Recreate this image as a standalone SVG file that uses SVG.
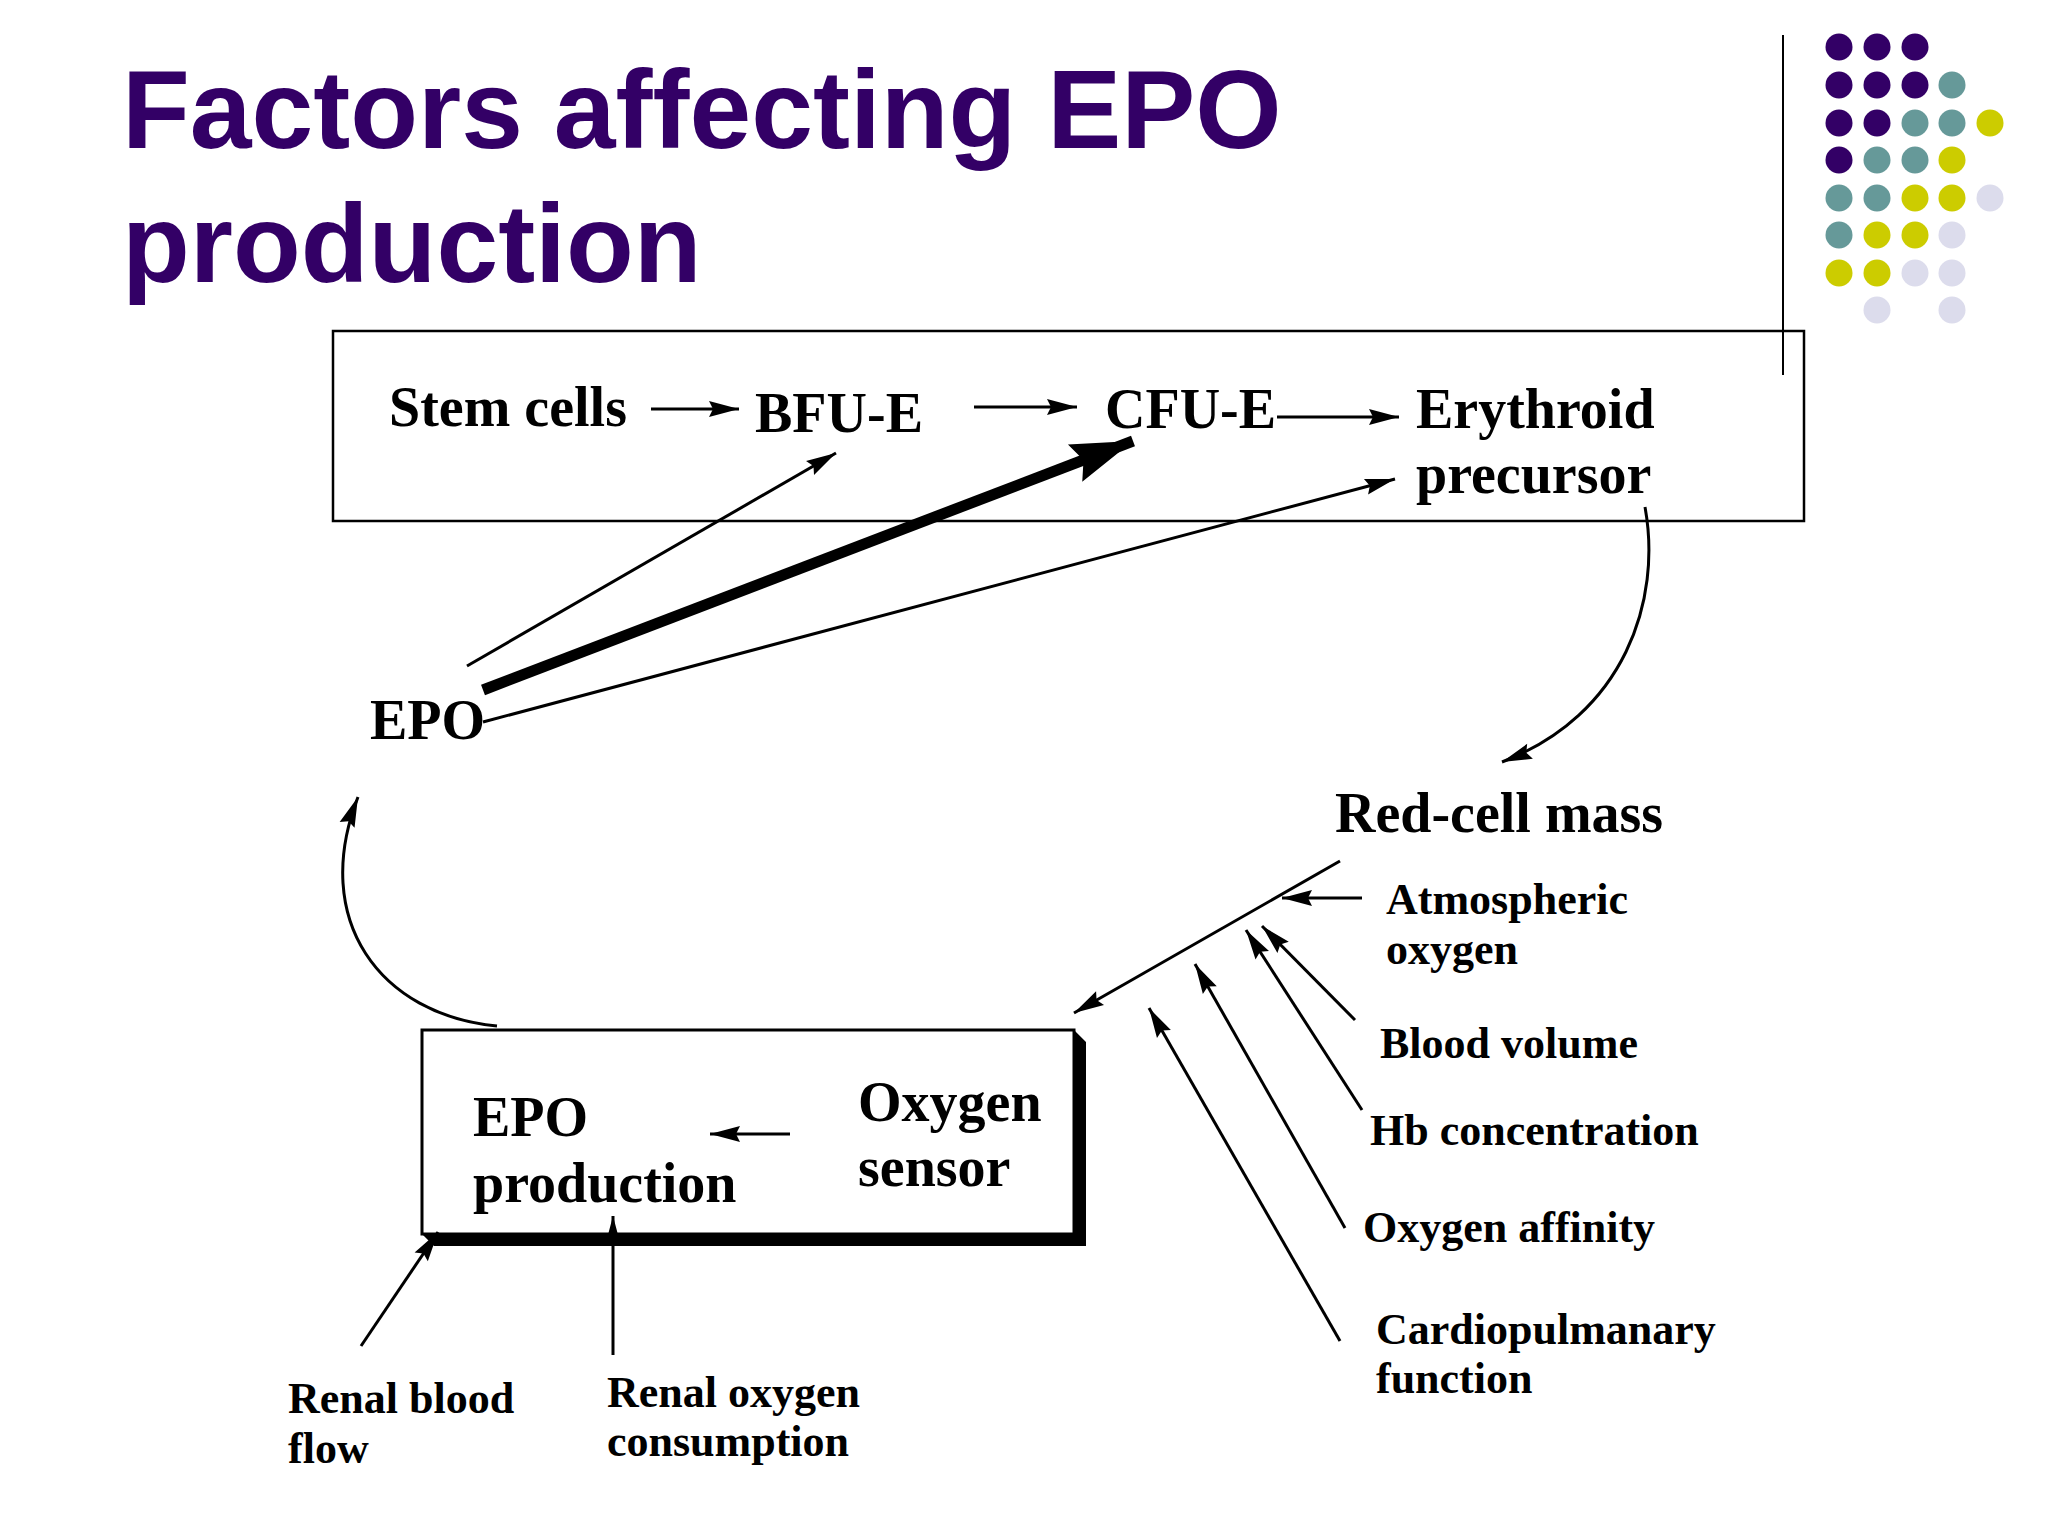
<svg xmlns="http://www.w3.org/2000/svg" width="2048" height="1536" viewBox="0 0 2048 1536">
<style>
.title{font-family:"Liberation Sans",Arial,sans-serif;font-weight:bold;font-size:111px;fill:#330066}
.big{font-family:"Liberation Serif","Times New Roman",serif;font-weight:bold;font-size:56px;fill:#000}
.small{font-family:"Liberation Serif","Times New Roman",serif;font-weight:bold;font-size:44px;fill:#000}
.ln{stroke:#000;stroke-width:3;fill:none}
.p{fill:#330066}.t{fill:#669999}.y{fill:#cccc00}.l{fill:#dcdcec}
</style>
<defs>
<marker id="ah" markerUnits="userSpaceOnUse" markerWidth="34" markerHeight="20" refX="30" refY="8" orient="auto" overflow="visible">
<path d="M0,0 L30,8 L0,16 L4,8 z" fill="#000"/>
</marker>
<marker id="ahb" markerUnits="userSpaceOnUse" markerWidth="70" markerHeight="44" refX="62" refY="20" orient="auto" overflow="visible">
<path d="M0,0 L62,20 L0,40 L9,20 z" fill="#000"/>
</marker>
</defs>
<rect width="2048" height="1536" fill="#fff"/>
<text class="title" x="122" y="148">Factors affecting EPO</text>
<text class="title" x="122" y="282">production</text>
<line x1="1783" y1="35" x2="1783" y2="375" stroke="#000" stroke-width="2"/>
<g id="dots">
<circle class="p" cx="1839" cy="47" r="13.5"/><circle class="p" cx="1877" cy="47" r="13.5"/><circle class="p" cx="1915" cy="47" r="13.5"/>
<circle class="p" cx="1839" cy="85" r="13.5"/><circle class="p" cx="1877" cy="85" r="13.5"/><circle class="p" cx="1915" cy="85" r="13.5"/><circle class="t" cx="1952" cy="85" r="13.5"/>
<circle class="p" cx="1839" cy="123" r="13.5"/><circle class="p" cx="1877" cy="123" r="13.5"/><circle class="t" cx="1915" cy="123" r="13.5"/><circle class="t" cx="1952" cy="123" r="13.5"/><circle class="y" cx="1990" cy="123" r="13.5"/>
<circle class="p" cx="1839" cy="160" r="13.5"/><circle class="t" cx="1877" cy="160" r="13.5"/><circle class="t" cx="1915" cy="160" r="13.5"/><circle class="y" cx="1952" cy="160" r="13.5"/>
<circle class="t" cx="1839" cy="198" r="13.5"/><circle class="t" cx="1877" cy="198" r="13.5"/><circle class="y" cx="1915" cy="198" r="13.5"/><circle class="y" cx="1952" cy="198" r="13.5"/><circle class="l" cx="1990" cy="198" r="13.5"/>
<circle class="t" cx="1839" cy="235" r="13.5"/><circle class="y" cx="1877" cy="235" r="13.5"/><circle class="y" cx="1915" cy="235" r="13.5"/><circle class="l" cx="1952" cy="235" r="13.5"/>
<circle class="y" cx="1839" cy="273" r="13.5"/><circle class="y" cx="1877" cy="273" r="13.5"/><circle class="l" cx="1915" cy="273" r="13.5"/><circle class="l" cx="1952" cy="273" r="13.5"/>
<circle class="l" cx="1877" cy="310" r="13.5"/><circle class="l" cx="1952" cy="310" r="13.5"/>
</g>
<g id="top-box">
<rect x="333" y="331" width="1471" height="190" fill="none" stroke="#000" stroke-width="2.5"/>
</g>
<g id="stem-cells"><text class="big" x="389" y="426">Stem cells</text></g>
<g id="bfu-e"><text class="big" x="755" y="432">BFU-E</text></g>
<g id="cfu-e"><text class="big" x="1105" y="428">CFU-E</text></g>
<g id="erythroid-precursor"><text class="big" x="1416" y="428">Erythroid</text><text class="big" x="1416" y="493">precursor</text></g>
<g id="epo"><text class="big" x="370" y="739">EPO</text></g>
<g id="red-cell-mass"><text class="big" x="1335" y="832">Red-cell mass</text></g>
<g id="epo-box">
<path d="M1074,1030 L1086,1042 L1086,1246 L434,1246 L422,1234 L1074,1234 z" fill="#000"/>
<rect x="422" y="1030" width="652" height="204" fill="#fff" stroke="#000" stroke-width="3"/>
<text class="big" x="473" y="1136">EPO</text><text class="big" x="473" y="1202">production</text>
<text class="big" x="858" y="1121">Oxygen</text><text class="big" x="858" y="1186">sensor</text>
</g>
<g id="atmospheric-oxygen"><text class="small" x="1386" y="914">Atmospheric</text><text class="small" x="1386" y="964">oxygen</text></g>
<g id="blood-volume"><text class="small" x="1380" y="1058">Blood volume</text></g>
<g id="hb-concentration"><text class="small" x="1370" y="1145">Hb concentration</text></g>
<g id="oxygen-affinity"><text class="small" x="1363" y="1242">Oxygen affinity</text></g>
<g id="cardiopulmanary-function"><text class="small" x="1376" y="1344">Cardiopulmanary</text><text class="small" x="1376" y="1393">function</text></g>
<g id="renal-blood-flow"><text class="small" x="288" y="1413">Renal blood</text><text class="small" x="288" y="1463">flow</text></g>
<g id="renal-oxygen-consumption"><text class="small" x="607" y="1407">Renal oxygen</text><text class="small" x="607" y="1456">consumption</text></g>
<g id="connectors">
<line class="ln" x1="651" y1="409" x2="739" y2="409" marker-end="url(#ah)"/>
<line class="ln" x1="974" y1="407" x2="1077" y2="407" marker-end="url(#ah)"/>
<line class="ln" x1="1277" y1="417" x2="1399" y2="417" marker-end="url(#ah)"/>
<line class="ln" x1="467" y1="666" x2="836" y2="453" marker-end="url(#ah)"/>
<line x1="483" y1="690" x2="1133" y2="441" stroke="#000" stroke-width="11" marker-end="url(#ahb)"/>
<line class="ln" x1="483" y1="722" x2="1395" y2="479" marker-end="url(#ah)"/>
<path class="ln" d="M1645,507 C1662,600 1625,715 1502,762" marker-end="url(#ah)"/>
<line class="ln" x1="1340" y1="861" x2="1074" y2="1013" marker-end="url(#ah)"/>
<line class="ln" x1="1362" y1="898" x2="1282" y2="898" marker-end="url(#ah)"/>
<line class="ln" x1="1355" y1="1020" x2="1262" y2="926" marker-end="url(#ah)"/>
<line class="ln" x1="1362" y1="1110" x2="1246" y2="930" marker-end="url(#ah)"/>
<line class="ln" x1="1345" y1="1228" x2="1195" y2="964" marker-end="url(#ah)"/>
<line class="ln" x1="1340" y1="1341" x2="1149" y2="1008" marker-end="url(#ah)"/>
<line class="ln" x1="790" y1="1134" x2="710" y2="1134" marker-end="url(#ah)"/>
<path class="ln" d="M497,1026 C380,1015 310,920 358,797" marker-end="url(#ah)"/>
<line class="ln" x1="361" y1="1346" x2="438" y2="1232" marker-end="url(#ah)"/>
<line class="ln" x1="613" y1="1355" x2="613" y2="1216" marker-end="url(#ah)"/>
</g>
</svg>
